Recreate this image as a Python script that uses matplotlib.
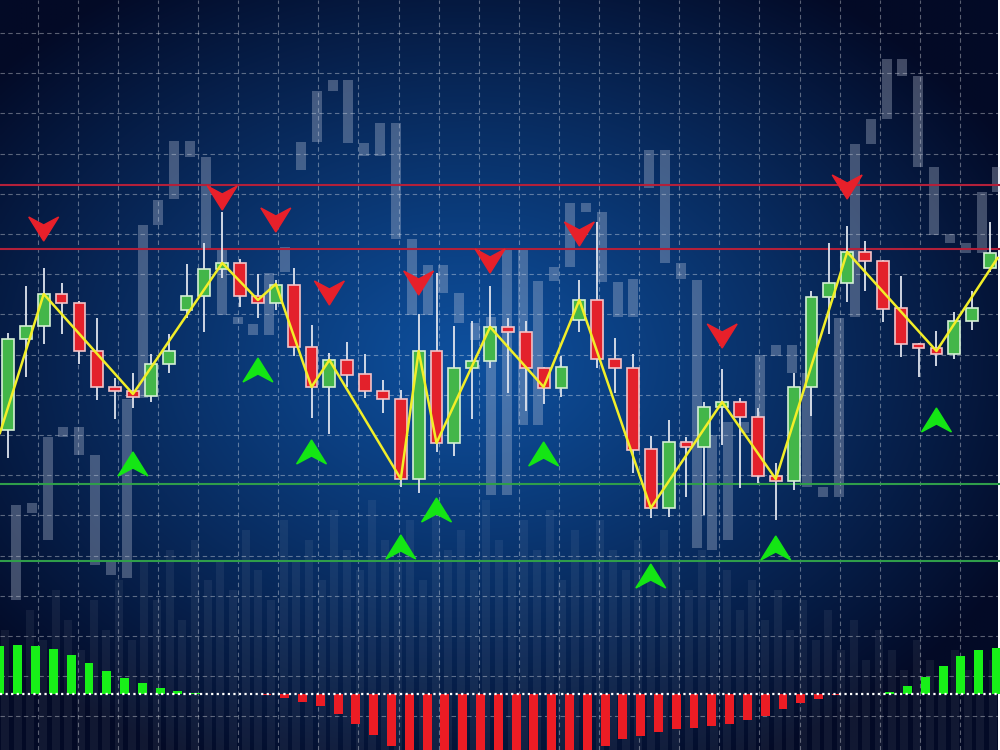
import numpy as np
import matplotlib.pyplot as plt
from matplotlib.patches import Polygon

# foreground candles, one per bar (index 0..55)
opens = [320, 411, 424, 456, 447, 399, 363, 359, 354, 386, 440, 454, 481, 487, 454, 447,
         465, 403, 363, 390, 376, 359, 351, 271, 399, 307, 382, 389, 423, 418, 382, 362,
         430, 450, 391, 382, 301, 242, 308, 303, 343, 348, 333, 274, 269, 363, 453, 467,
         498, 489, 442, 406, 402, 396, 429, 482]
closes = [411, 424, 456, 447, 399, 363, 359, 353, 386, 399, 454, 481, 487, 454, 447, 465,
          403, 363, 390, 375, 359, 351, 271, 399, 307, 382, 389, 423, 418, 382, 362, 383,
          450, 391, 382, 300, 242, 308, 303, 343, 348, 333, 274, 269, 363, 453, 467, 498,
          489, 441, 406, 402, 396, 429, 442, 497]
highs = [417, 464, 482, 467, 449, 432, 372, 377, 396, 416, 486, 507, 538, 491, 476, 470,
         482, 425, 397, 408, 396, 370, 360, 436, 477, 424, 429, 464, 432, 429, 383, 394,
         470, 528, 412, 396, 314, 330, 313, 348, 381, 352, 342, 287, 377, 459, 507, 524,
         509, 490, 474, 407, 419, 438, 459, 528]
lows = [292, 373, 406, 416, 386, 350, 331, 342, 348, 377, 432, 418, 472, 443, 432, 440,
        394, 332, 316, 363, 352, 337, 263, 257, 298, 294, 331, 382, 357, 339, 346, 353,
        418, 382, 357, 277, 232, 233, 253, 235, 305, 262, 267, 230, 260, 334, 416, 448,
        459, 428, 393, 373, 384, 391, 420, 478]

# zigzag pivots (bar index, price)
zz_idx = [-0.45, 2, 7, 12, 14, 15, 17, 18, 22, 23, 24, 27, 30, 32, 36, 40, 43, 47, 52, 55.42]
zz_val = [317, 456, 356, 487, 450, 466, 363, 390, 271, 399, 307, 423, 363, 450, 242, 348,
          271, 498, 399, 492]

# signal arrows (bar index, tip price)
sell_idx = [2, 12, 15, 18, 23, 27, 32, 40, 47]
sell_val = [509, 540, 518, 445, 455, 477, 504, 402, 551]
buy_idx = [7, 14, 17, 22, 24, 30, 36, 43, 52]
buy_val = [298, 392, 310, 215, 252, 308, 186, 214, 342]

# support / resistance levels
resist = [565, 501]
support = [266, 189]

# faded background candles (high, low of body)
bg_hi = [245, 247, 313, 323, 323, 295, 190, 351, 525, 550, 609, 609, 593, 502, 433, 426,
         477, 503, 608, 659, 670, 670, 607, 627, 627, 511, 485, 485, 457, 427, 433, 501,
         501, 469, 483, 547, 547, 538, 468, 471, 600, 600, 487, 470, 315, 328, 328, 395,
         405, 405, 377, 263, 432, 606, 631, 691, 691, 674, 583, 516, 507, 558, 583]
bg_lo = [150, 237, 210, 313, 295, 185, 175, 172, 352, 525, 551, 593, 502, 435, 426, 415,
         415, 478, 580, 608, 659, 607, 594, 594, 511, 435, 435, 457, 427, 410, 255, 255,
         325, 325, 469, 483, 538, 468, 433, 433, 562, 487, 471, 202, 200, 210, 317, 280,
         394, 377, 263, 253, 253, 433, 606, 631, 674, 583, 515, 507, 497, 497, 558]

# oscillator histogram
osc = [48, 49, 48, 45, 39, 31, 23, 16, 11, 6, 3, 1, 0.5, 0, 0, -0.5, -4, -8, -12, -20,
       -30, -41, -52, -60, -64, -66, -68, -70, -70, -68, -66, -64, -60, -60, -52, -45,
       -42, -38, -35, -34, -32, -30, -26, -22, -15, -9, -5, -1, 0, 0, 2, 8, 17, 28, 38, 44, 46]
osc_base = 56

# faint volume bars behind
vol = [120, 90, 140, 110, 160, 130, 100, 150, 120, 170, 110, 190, 150, 200, 130, 210,
       170, 190, 160, 220, 180, 150, 230, 190, 210, 170, 240, 200, 180, 250, 210, 190,
       230, 170, 240, 200, 220, 180, 250, 210, 190, 230, 200, 240, 170, 220, 190, 230,
       200, 180, 210, 170, 220, 190, 160, 200, 150, 180, 140, 170, 130, 160, 120, 150,
       110, 140, 100, 130, 90, 120, 100, 80, 110, 90, 70, 100, 80, 60, 90]

step = 17.9          # pixels per bar
x0 = 8.0             # pixel of bar 0


def px(p):
    return (np.asarray(p, dtype=float) - x0) / step


fig = plt.figure(figsize=(10, 7.5), dpi=100)
ax = fig.add_axes([0, 0, 1, 1])
xmin, xmax = px(0), px(1000)
ax.set_xlim(xmin, xmax)
ax.set_ylim(0, 750)

# background glow
gx, gy = np.meshgrid(np.linspace(0, 1, 400), np.linspace(0, 1, 300))
r = np.sqrt(((gx - 0.47) / 0.62) ** 2 + ((gy - 0.48) / 0.6) ** 2)
t = np.clip(r, 0, 1) ** 1.1
c_in = np.array([14, 80, 158]) / 255
c_out = np.array([3, 10, 38]) / 255
img = c_in[None, None, :] * (1 - t[..., None]) + c_out[None, None, :] * t[..., None]
ax.imshow(img, extent=[xmin, xmax, 0, 750], aspect='auto', origin='upper', zorder=-2)

# grid
ax.set_xticks(px(37.7 + 40.2 * np.arange(25)))
ax.set_yticks(717 - 40.2 * np.arange(18))
ax.grid(color='white', alpha=0.35, linestyle=(0, (4, 3)), linewidth=0.8)
ax.set_axisbelow(True)
ax.tick_params(length=0, labelbottom=False, labelleft=False)
for s in ax.spines.values():
    s.set_visible(False)

# faint volume bars
vx = px(5 + 12.7 * np.arange(len(vol)))
ax.bar(vx, vol, width=0.45, color='white', alpha=0.06, zorder=0.8)

# faded background candles
bx = px(16 + 15.87 * np.arange(len(bg_hi)))
bh = np.array(bg_hi) - np.array(bg_lo)
ax.bar(bx, bh, bottom=bg_lo, width=0.56, color='#c5cde0', alpha=0.32, zorder=1)

# levels
for lv in resist:
    ax.axhline(lv, color='#b3203a', lw=1.5, zorder=2)
for lv in support:
    ax.axhline(lv, color='#2f9e4a', lw=1.5, zorder=2)

# histogram
osc = np.array(osc, dtype=float)
hx = px(17.84 * np.arange(len(osc)))
hcol = ['#18f018' if v >= 0 else '#ec1c24' for v in osc]
ax.bar(hx, osc, bottom=osc_base, width=0.5, color=hcol, zorder=3)
ax.axhline(osc_base, color='white', lw=1.6, linestyle=(0, (1, 1.5)), zorder=3.5)

# candles
ix = np.arange(len(opens))
o = np.array(opens)
c = np.array(closes)
up = c >= o
ax.vlines(ix, lows, highs, color='#dfe4ee', lw=1.3, zorder=4)
ax.bar(ix[up], (c - o)[up], bottom=o[up], width=0.66, color='#43b649',
       edgecolor='#d4efd4', linewidth=1.2, zorder=5)
ax.bar(ix[~up], (c - o)[~up], bottom=o[~up], width=0.66, color='#e3212b',
       edgecolor='#f2c4c8', linewidth=1.2, zorder=5)

# zigzag
ax.plot(zz_idx, zz_val, color='#f2ee28', lw=1.8, zorder=6)

# arrows
dx = 15 / step
for xi, p in zip(sell_idx, sell_val):
    pts = [(xi, p), (xi + dx, p + 24), (xi, p + 16), (xi - dx, p + 24)]
    ax.add_patch(Polygon(pts, closed=True, color='#e8202a', zorder=7))
for xi, p in zip(buy_idx, buy_val):
    pts = [(xi, p), (xi + dx, p - 24), (xi, p - 16), (xi - dx, p - 24)]
    ax.add_patch(Polygon(pts, closed=True, color='#14e614', zorder=7))

fig.savefig('out.png', dpi=100)
